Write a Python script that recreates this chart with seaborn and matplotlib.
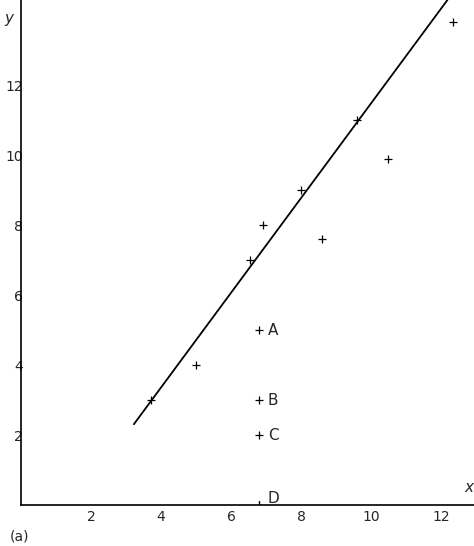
import matplotlib
matplotlib.use("Agg")
import matplotlib.pyplot as plt
import seaborn as sns
import pandas as pd

sns.set_style("white")
plt.rcParams['font.family'] = ['DejaVu Sans']

pts_x = [3.7, 5.0, 6.55, 6.9, 8.0, 8.6, 9.6, 10.5, 12.35]
pts_y = [3.0, 4.0, 7.0, 8.0, 9.0, 7.6, 11.0, 9.9, 13.8]
lab_x = [6.8, 6.8, 6.8, 6.8]
lab_y = [5.0, 3.0, 2.0, 0.0]
lab_names = ["A", "B", "C", "D"]
line_x = [3.22, 12.19]
line_y = [2.31, 14.43]
xticks = [2, 4, 6, 8, 10, 12]
yticks = [2, 4, 6, 8, 10, 12]

fig = plt.figure(figsize=(4.74, 5.46), dpi=100)
ax = fig.add_axes([0.045, 0.075, 0.955, 0.925])

df = pd.DataFrame({"x": pts_x, "y": pts_y})
sns.scatterplot(data=df, x="x", y="y", marker="+", s=30, color="black", linewidth=0.9, ax=ax)
dl = pd.DataFrame({"x": lab_x[:3], "y": lab_y[:3]})
sns.scatterplot(data=dl, x="x", y="y", marker="+", s=40, color="black", linewidth=0.9, ax=ax)
sns.lineplot(x=line_x, y=line_y, color="black", linewidth=1.3, ax=ax)
for xv, yv, n in zip(lab_x, lab_y, lab_names):
    ax.text(xv + 0.25, yv + (0.2 if n == "D" else 0), n, va="center", ha="left", fontsize=11)
ax.plot([lab_x[3], lab_x[3]], [0, 0.12], color="black", linewidth=1)

ax.set_xlim(0, 12.95)
ax.set_ylim(0, 14.43)
ax.set_xticks(xticks)
ax.set_yticks(yticks)
ax.tick_params(direction="in", length=5, labelsize=10, color="black", width=1)
ax.tick_params(axis="y", pad=-1)
for s in ["top", "right"]:
    ax.spines[s].set_visible(False)
for s in ["left", "bottom"]:
    ax.spines[s].set_color("black")
    ax.spines[s].set_linewidth(1.2)
ax.set_xlabel("")
ax.set_ylabel("")
ax.text(-0.35, 13.9, "y", style="italic", fontsize=11, ha="center", va="center", clip_on=False)
ax.text(12.8, 0.5, "x", style="italic", fontsize=11, ha="center", va="center")
fig.text(0.02, 0.01, "(a)", fontsize=10)
fig.savefig("out.png", dpi=100)
